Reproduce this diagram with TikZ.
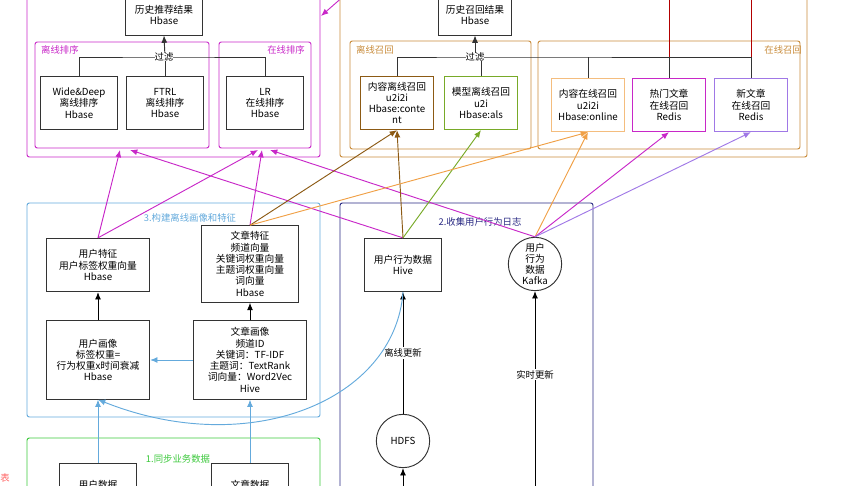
\documentclass[tikz,border=0pt]{standalone}
\usepackage{fontspec}
\setmainfont{Noto Sans CJK SC}
\usetikzlibrary{arrows.meta}
\definecolor{mag}{RGB}{200,40,200}
\definecolor{brn}{RGB}{200,140,60}
\definecolor{dbrn}{RGB}{140,90,20}
\definecolor{grn}{RGB}{120,170,40}
\definecolor{org}{RGB}{240,160,70}
\definecolor{pur}{RGB}{160,120,230}
\definecolor{sky}{RGB}{100,170,220}
\definecolor{navy}{RGB}{40,40,130}
\definecolor{lgrn}{RGB}{60,200,60}
\tikzset{
  box/.style={draw=black!80, thick, fill=white, align=center, inner sep=1pt, font=\fontsize{8.3}{9.6}\selectfont},
  frame/.style={rounded corners=2pt, thick},
  lab/.style={font=\fontsize{8}{9}\selectfont},
  tip/.style={-{Latex[length=2.2mm,width=1.8mm]}}
}
\newcommand{\boxat}[6]{\node[box,#6,minimum width=#3,minimum height=#4] (#1) at (#2) {#5};}

\begin{document}
\begin{tikzpicture}[x=0.03cm,y=-0.03cm]
  \useasboundingbox (0,0) rectangle (864,486);
  \begin{scope}
  \clip (0,0) rectangle (864,486);
  % frames
  \draw[frame, mag] (27,-5) rectangle (320,157);
  \draw[frame, mag] (35,42) rectangle (209,148);
  \draw[frame, mag] (219,42) rectangle (311,148);
  \draw[frame, brn] (340,-5) rectangle (807,157);
  \draw[frame, brn] (350,41) rectangle (531,149);
  \draw[frame, brn] (538,41) rectangle (800,149);
  \draw[frame, sky] (27,203) rectangle (320,417);
  \draw[frame, lgrn] (27,438) rectangle (320,500);
  \draw[frame, navy] (340,203) rectangle (593,500);
  \node[lab, mag, anchor=west] at (37,50) {离线排序};
  \node[lab, mag, anchor=east] at (309,50) {在线排序};
  \node[lab, brn, anchor=west] at (352,50) {离线召回};
  \node[lab, brn, anchor=east] at (806,50) {在线召回};
  \node[lab, sky] at (190,218) {3.构建离线画像和特征};
  \node[lab, lgrn] at (178,459) {1.同步业务数据};
  \node[lab, navy] at (480,222) {2.收集用户行为日志};
  \node[lab, red!60, anchor=east] at (14,478) {列表};

  % ranking
  \boxat{hisrank}{164,15}{2.3cm}{1.2cm}{历史推荐结果\\Hbase}{}
  \boxat{wd}{79,103}{2.3cm}{1.6cm}{Wide\&Deep\\离线排序\\Hbase}{}
  \boxat{ftrl}{165,103}{2.3cm}{1.6cm}{FTRL\\离线排序\\Hbase}{}
  \boxat{lr}{265,103}{2.3cm}{1.6cm}{LR\\在线排序\\Hbase}{}
  \draw[thick, black!80] (wd.north) |- (165,57) -| (lr.north);
  \draw[thick, black!80] (ftrl.north) -- (165,57);
  \draw[thick, black!80, tip] (165,57) -- (hisrank.south);
  \node[lab, fill=white, inner sep=0pt] at (164,57) {过滤};

  % recall
  \boxat{hisrec}{475,15}{2.2cm}{1.2cm}{历史召回结果\\Hbase}{}
  \boxat{cont}{397,103}{2.2cm}{1.6cm}{内容离线召回\\u2i2i\\Hbase:conte\\nt}{draw=dbrn}
  \boxat{als}{481,103}{2.2cm}{1.6cm}{模型离线召回\\u2i\\Hbase:als}{draw=grn}
  \boxat{onl}{588,105}{2.2cm}{1.6cm}{内容在线召回\\u2i2i\\Hbase:online}{draw=org!70}
  \boxat{hot}{669,105}{2.2cm}{1.6cm}{热门文章\\在线召回\\Redis}{draw=mag}
  \boxat{new}{751,105}{2.2cm}{1.6cm}{新文章\\在线召回\\Redis}{draw=pur}
  \draw[thick, black!80] (cont.north) |- (475,57) -| (new.north);
  \draw[thick, black!80] (als.north) -- (481,57);
  \draw[thick, black!80] (onl.north) -- (588,57);
  \draw[thick, black!80] (hot.north) -- (669,57);
  \draw[thick, black!80, tip] (475,57) -- (hisrec.south);
  \node[lab, fill=white, inner sep=0pt] at (475,57) {过滤};
  \coordinate (topa) at (669,-5);
  \coordinate (topb) at (751,-5);
  \draw[red!70!black] (topa) -- (669,57);
  \draw[red!70!black] (topb) -- (751,57);
  \coordinate (mfrom) at (345,-5);
  \draw[mag, thick, tip] (mfrom) -- (321,16);

  % offline features
  \boxat{ufeat}{98,265}{3.1cm}{1.6cm}{用户特征\\用户标签权重向量\\Hbase}{}
  \boxat{afeat}{250,264}{2.9cm}{2.3cm}{文章特征\\频道向量\\关键词权重向量\\主题词权重向量\\词向量\\Hbase}{}
  \boxat{uprof}{98,360}{3.1cm}{2.35cm}{用户画像\\标签权重=\\行为权重x时间衰减\\Hbase}{}
  \boxat{aprof}{250,360}{3.4cm}{2.35cm}{文章画像\\频道ID\\关键词：TF-IDF\\主题词：TextRank\\词向量：Word2Vec\\Hive}{}
  \boxat{udata}{98,485}{2.3cm}{1.3cm}{用户数据}{}
  \boxat{adata}{250,485}{2.3cm}{1.3cm}{文章数据}{}
  \draw[thick, tip] (uprof) -- (ufeat);
  \draw[thick, tip] (aprof) -- (afeat);
  \draw[thick, sky, tip] (aprof) -- (uprof);
  \draw[thick, sky, tip] (udata) -- (uprof);
  \draw[thick, sky, tip] (adata) -- (aprof);

  % behaviour logs
  \boxat{hive}{403,265}{2.3cm}{1.6cm}{用户行为数据\\Hive}{}
  \node[box, circle, minimum size=1.6cm] (kafka) at (535,264) {用户\\行为\\数据\\Kafka};
  \node[box, circle, minimum size=1.6cm] (hdfs) at (403,441) {HDFS};
  \coordinate (hdfsin) at (403,500);
  \coordinate (kafkain) at (535,500);
  \draw[thick, tip] (hdfsin) -- (hdfs);
  \draw[thick, tip] (hdfs) -- node[lab, fill=white, inner sep=1pt] {离线更新} (hive);
  \draw[thick, tip] (kafkain) -- node[lab, fill=white, inner sep=1pt, pos=0.6] {实时更新} (kafka);
  \draw[thick, sky, tip] (hive.south) .. controls (395,400) and (250,460) .. (uprof.south);

  % cross links
  \draw[thick, mag, tip] (ufeat.north) -- (120,150);
  \draw[thick, mag, tip] (ufeat.north) -- (258,150);
  \draw[thick, mag, tip] (afeat.north) -- (262,150);
  \draw[thick, mag, tip] (hive.north) -- (130,150);
  \draw[thick, mag, tip] (kafka.north) -- (270,150);
  \draw[thick, dbrn, tip] (afeat.north) -- (cont.south);
  \draw[thick, dbrn, tip] (hive.north) -- (cont.south);
  \draw[thick, grn, tip] (hive.north) -- (als.south);
  \draw[thick, org, tip] (afeat.north) -- (onl.south);
  \draw[thick, org, tip] (kafka.north) -- (onl.south);
  \draw[thick, mag, tip] (kafka.north) -- (hot.south);
  \draw[thick, pur, tip] (kafka.north) -- (new.south);
  \end{scope}
\end{tikzpicture}
\end{document}
